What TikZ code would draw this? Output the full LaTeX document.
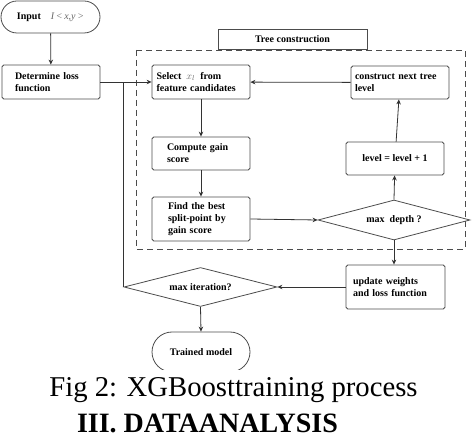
\documentclass[tikz,border=0pt]{standalone}
\usepackage{fontspec}
\setmainfont{Liberation Serif}
\usetikzlibrary{shapes.geometric,shapes.misc,arrows.meta}
\begin{document}
\begin{tikzpicture}[x=1pt,y=-1pt,
  boxst/.style={draw=black!70,line width=0.8pt,rounded corners=1.8pt,align=left,
    font=\fontsize{10}{12}\selectfont\bfseries,inner ysep=0pt},
  stad/.style={draw=black!70,line width=0.8pt,rounded rectangle,
    font=\fontsize{10}{12}\selectfont\bfseries,inner sep=0pt},
  dia/.style={draw=black!70,line width=0.8pt,diamond,aspect=3.8,inner sep=0pt,
    font=\fontsize{10}{12}\selectfont\bfseries},
  conn/.style={draw=black!80,line width=0.8pt},
  arr/.style={conn,-{Stealth[length=5pt,width=4.5pt]}}
]
\useasboundingbox (0,0) rectangle (474,435);
\clip (0,0) rectangle (474,435);

% dashed frame and title
\draw[black!70,line width=0.8pt,dash pattern=on 6pt off 4pt] (136,50) rectangle (465,249);
\node[draw=black!70,line width=0.8pt,minimum width=149pt,minimum height=20pt,inner sep=0pt,
  font=\fontsize{10}{12}\selectfont\bfseries] (title) at (292.5,39.5) {Tree construction};

% nodes
\node[stad,minimum width=99pt,minimum height=32pt] (inp) at (50.5,17)
  {Input\hspace{10pt}\mdseries\itshape\color{black!60}I\,<\,x,y\,>};
\node[boxst,minimum height=34pt,text width=72pt,inner xsep=13pt] (det) at (51,82)
  {Determine loss\\function};
\node[boxst,minimum height=34pt,text width=89pt,inner xsep=4.5pt] (sel) at (201,82)
  {Select \,{\mdseries\color{black!60}$x_l$}\, from\\feature candidates};
\node[boxst,minimum height=33pt,text width=68pt,inner xsep=15pt] (comp) at (201,153.5)
  {Compute gain\\score};
\node[boxst,minimum height=44pt,text width=66pt,inner xsep=16pt] (find) at (201,219)
  {Find the best\\split-point by\\gain score};
\node[boxst,minimum height=33pt,text width=90pt,inner xsep=4pt] (cons) at (400,82.5)
  {construct next tree\\level};
\node[boxst,minimum height=33pt,minimum width=98pt,align=center] (lev) at (395,158.5)
  {level = level + 1};
\node[dia,minimum width=152pt,minimum height=40pt] (md) at (394,220) {max\ \ depth ?};
\node[boxst,minimum height=44pt,text width=85pt,inner xsep=7pt] (upd) at (395.5,287)
  {update weights\\and loss function};
\node[dia,minimum width=153pt,minimum height=39pt] (mi) at (200.5,287) {max iteration?};
\begin{scope}
\clip (0,0) rectangle (474,370);
\node[stad,minimum width=98pt,minimum height=40pt] (tm) at (201,352) {Trained model};
\end{scope}

% connectors
\draw[arr] (inp) -- (det);
\draw[arr] (det) -- (sel);
\draw[conn] (mi.west) -- (mi.west |- det.east);
\draw[arr] (sel) -- (comp);
\draw[arr] (comp) -- (find);
\draw[arr] (find.east) -- (md.west);
\draw[arr] (md.north) -- (lev);
\draw[arr] (lev) -- (cons);
\draw[arr] (cons) -- (sel);
\draw[arr] (md.south) -- (md.south |- upd.north);
\draw[arr] (upd) -- (mi.east);
\draw[arr] (mi.south) -- (tm.north);

% caption
\node[anchor=base,inner sep=0pt,font=\fontsize{28.7}{30}\selectfont] (cap) at (233.5,397)
  {Fig 2: XGBoosttraining process};
\node[anchor=base,inner sep=0pt,font=\fontsize{28}{30}\selectfont\bfseries] (sec) at (207.5,432.5)
  {III. DATAANALYSIS};
\end{tikzpicture}
\end{document}
